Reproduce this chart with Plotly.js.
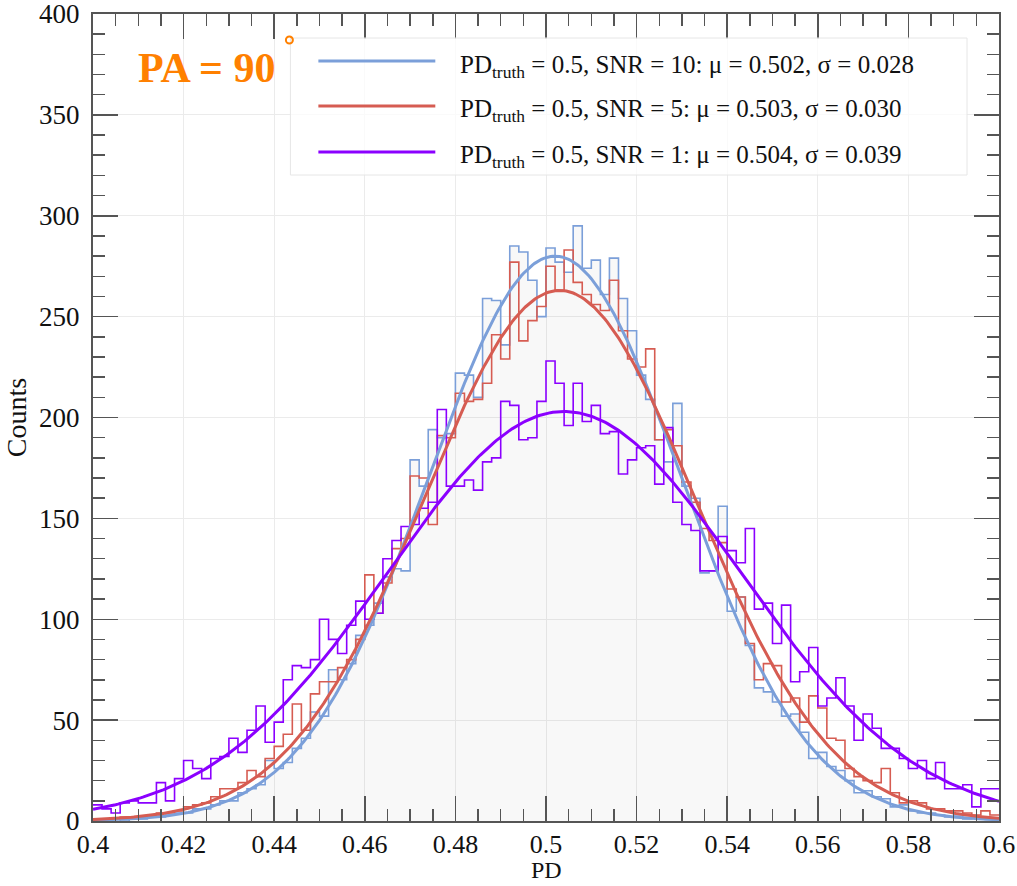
<!DOCTYPE html>
<html>
<head>
<meta charset="utf-8">
<script src="https://cdn.plot.ly/plotly-3.0.1.min.js"></script>
<style>html,body{margin:0;padding:0;background:#fff;}#chart{width:1017px;height:886px;}</style>
</head>
<body>
<div id="chart"></div>
<script>
// ---- Data ----
const binStart = 0.4;
const binWidth = 0.002;

// SNR = 10 histogram counts (100 bins, 0.400 - 0.600)
const countsSNR10 = [0,0,1,0,1,1,2,2,3,4, 4,6,6,8,10,10,14,16,18,30,
  26,29,36,41,54,52,75,70,78,92, 97,108,121,125,124,179,166,194,190,192,
  222,221,210,259,258,236,285,282,268,250, 284,277,272,295,274,278,261,279,259,243,
  221,209,189,178,207,166,160,123,124,156, 104,111,87,66,64,59,52,53,44,31,
  34,27,25,20,14,15,12,11,7,8, 5,4,4,3,2,3,1,2,1,1];

// SNR = 5 histogram counts
const countsSNR5 = [1,1,1,2,1,2,3,4,4,5, 7,8,9,12,16,16,19,25,22,31,
  37,43,58,45,63,69,69,76,80,90, 122,103,118,135,140,171,170,147,191,190,
  212,208,209,217,241,229,277,238,248,255, 275,263,283,267,261,256,253,268,243,229,
  225,234,189,194,186,168,158,145,139,138, 115,111,88,70,78,77,59,61,49,62,
  56,41,40,26,22,20,19,26,14,9, 10,9,6,6,5,5,4,3,5,3];

// SNR = 1 histogram counts
const countsSNR1 = [8,6,4,9,10,9,9,19,10,21, 30,26,21,31,32,41,34,45,57,39,
  49,70,77,76,80,100,90,83,97,109, 100,103,130,139,146,147,155,158,204,166,
  166,169,164,178,180,208,206,189,190,208, 228,217,196,217,198,206,192,193,172,179,
  185,186,167,195,158,147,144,124,124,141, 134,128,145,105,108,88,107,69,74,86,
  57,61,71,57,40,53,46,36,36,31, 26,30,21,29,16,16,18,7,16,16];

// Gaussian fit parameters (amplitude; mu, sigma from legend)
const fitAmp   = [280, 263, 203];
const fitMu    = [0.502, 0.503, 0.504];
const fitSigma = [0.028, 0.030, 0.039];
const seriesLabels = [
  'PD<sub>truth</sub> = 0.5, SNR = 10: μ = 0.502, σ = 0.028',
  'PD<sub>truth</sub> = 0.5, SNR = 5: μ = 0.503, σ = 0.030',
  'PD<sub>truth</sub> = 0.5, SNR = 1: μ = 0.504, σ = 0.039'
];
const seriesColors = ['#7b9fd9', '#d65c52', '#8b00ff'];
const xTicks = [0.4,0.42,0.44,0.46,0.48,0.5,0.52,0.54,0.56,0.58,0.6];
const yTicks = [0,50,100,150,200,250,300,350,400];

// ---- Build traces ----
const allCounts = [countsSNR10, countsSNR5, countsSNR1];
const edges = [];
for (let i = 0; i <= countsSNR10.length; i++) edges.push(+(binStart + i*binWidth).toFixed(4));

function stepY(c){ return c.concat([c[c.length-1]]); }

const traces = [];
// faint fill under the histograms
traces.push({x: edges, y: stepY(countsSNR10), mode:'lines', line:{shape:'hv', width:0, color:'rgba(0,0,0,0)'},
  fill:'tozeroy', fillcolor:'rgba(0,0,0,0.028)', showlegend:false, hoverinfo:'skip'});

for (let s = 0; s < 3; s++) {
  traces.push({x: edges, y: stepY(allCounts[s]), mode:'lines',
    line:{shape:'hv', width:1.6, color: seriesColors[s]}, showlegend:false});
}
const fx = [];
for (let i = 0; i <= 400; i++) fx.push(binStart + i*0.0005);
for (let s = 0; s < 3; s++) {
  const fy = fx.map(x => fitAmp[s]*Math.exp(-Math.pow(x-fitMu[s],2)/(2*fitSigma[s]*fitSigma[s])));
  traces.push({x: fx, y: fy, mode:'lines', line:{width:3, color: seriesColors[s]}, showlegend:false});
}

// ---- Custom legend (shapes + annotations in paper coords) ----
const L = 92.5, R = 999, T = 14, B = 821;
const px = v => (v - L)/(R - L);
const py = v => (B - v)/(B - T);
const serif = 'Liberation Serif, Times New Roman, serif';
const shapes = [
  {type:'rect', xref:'paper', yref:'paper', x0:px(290), x1:px(967), y0:py(175), y1:py(38),
   line:{color:'#e6e6e6', width:1}, fillcolor:'rgba(255,255,255,0.75)', layer:'above'},
  {type:'circle', xref:'paper', yref:'paper', x0:px(285.5), x1:px(292.5), y0:py(43.5), y1:py(36.5),
   line:{color:'#ff8000', width:2}, layer:'above'}
];
const rowY = [61, 106, 152];
const annotations = [
  {xref:'paper', yref:'paper', x:px(136), y:py(68), xanchor:'left', yanchor:'middle', showarrow:false,
   text:'<b>PA = 90</b>', font:{family:serif, size:42, color:'#ff8000'}},
  {xref:'paper', yref:'paper', x:px(546), y:py(884), xanchor:'center', yanchor:'bottom', showarrow:false,
   text:'PD', font:{family:serif, size:24, color:'#111'}, borderpad:0}
];
for (let s = 0; s < 3; s++) {
  shapes.push({type:'line', xref:'paper', yref:'paper', x0:px(318), x1:px(435), y0:py(rowY[s]), y1:py(rowY[s]),
    line:{color: seriesColors[s], width:3}, layer:'above'});
  annotations.push({xref:'paper', yref:'paper', x:px(458), y:py(rowY[s]+5), xanchor:'left', yanchor:'middle',
    showarrow:false, text: seriesLabels[s],
    font:{family:serif, size:25, color:'#111'}});
}

const axisCommon = {
  showline:true, linecolor:'#555', linewidth:2, mirror:'ticks',
  ticks:'inside', ticklen:25, tickwidth:1.5, tickcolor:'#555',
  showgrid:true, gridcolor:'#ebebeb', gridwidth:1, zeroline:false,
  ticklabeloverflow:'allow',
  tickfont:{family:serif, size:27, color:'#111'}
};
const layout = {
  width:1017, height:886,
  margin:{l:92.5, r:18, t:14, b:65},
  paper_bgcolor:'#fff', plot_bgcolor:'#fff',
  showlegend:false,
  xaxis: Object.assign({}, axisCommon, {
    range:[0.4, 0.6], tickvals:xTicks, ticktext:xTicks.map(String), ticklabelstandoff:-1,
    tickfont:{family:serif, size:26, color:'#111'},
    minor:{dtick:0.005, tick0:0.4, ticks:'inside', ticklen:12, tickcolor:'#555', tickwidth:1.5, showgrid:false}
  }),
  yaxis: Object.assign({}, axisCommon, {
    range:[0, 400], tickvals:yTicks, ticktext:yTicks.map(String), ticklabelstandoff:6,
    minor:{dtick:10, tick0:0, ticks:'inside', ticklen:12, tickcolor:'#555', tickwidth:1.5, showgrid:false},
    title:{text:'Counts', font:{family:serif, size:28, color:'#111'}, standoff:4}
  }),
  shapes: shapes,
  annotations: annotations
};
Plotly.newPlot('chart', traces, layout, {displayModeBar:false, staticPlot:true});
</script>
</body>
</html>
